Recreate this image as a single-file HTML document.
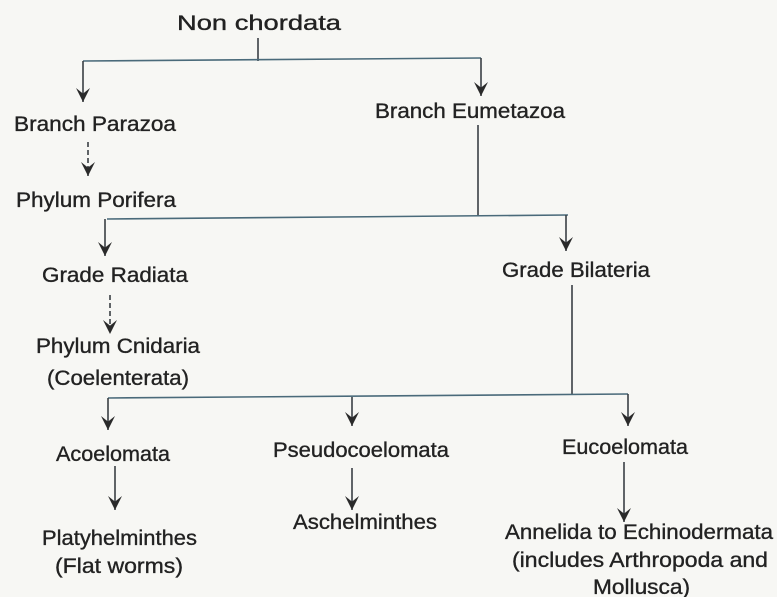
<!DOCTYPE html>
<html><head><style>
html,body{margin:0;padding:0;background:#f7f7f4;}
svg{display:block}
text{font-family:"Liberation Sans",Arial,sans-serif;font-size:21px;fill:#222;stroke:#222;stroke-width:0.35;}
</style></head><body>
<svg width="777" height="597" viewBox="0 0 777 597" xmlns="http://www.w3.org/2000/svg">
<defs>
<marker id="a" viewBox="0 0 10 10" refX="10" refY="5" markerWidth="14" markerHeight="14" markerUnits="userSpaceOnUse" orient="auto">
<path d="M0,0 L10,5 L0,10 L4,5 Z" fill="#2a2a2a"/>
</marker>
</defs>
<g stroke="#3a3f44" stroke-width="1.6" fill="none">
<line x1="258" y1="38" x2="258" y2="61"/>
<line x1="83" y1="61" x2="481" y2="58" stroke="#4a6a7a"/>
<line x1="83" y1="61" x2="83" y2="102" marker-end="url(#a)"/>
<line x1="481" y1="58" x2="481" y2="96" marker-end="url(#a)"/>
<line x1="88" y1="142" x2="88" y2="176" stroke-dasharray="5,3" marker-end="url(#a)"/>
<line x1="478" y1="125" x2="478" y2="216"/>
<line x1="107" y1="219" x2="568" y2="215" stroke="#4a6a7a"/>
<line x1="105" y1="219" x2="105" y2="256" marker-end="url(#a)"/>
<line x1="566" y1="215" x2="566" y2="251" marker-end="url(#a)"/>
<line x1="110" y1="295" x2="110" y2="334" stroke-dasharray="5,3" marker-end="url(#a)"/>
<line x1="572" y1="285" x2="572" y2="395"/>
<line x1="108" y1="398" x2="628" y2="394" stroke="#4a6a7a"/>
<line x1="108" y1="398" x2="108" y2="430" marker-end="url(#a)"/>
<line x1="352" y1="397" x2="352" y2="426" marker-end="url(#a)"/>
<line x1="628" y1="394" x2="628" y2="426" marker-end="url(#a)"/>
<line x1="115" y1="466" x2="115" y2="510" marker-end="url(#a)"/>
<line x1="352" y1="468" x2="352" y2="510" marker-end="url(#a)"/>
<line x1="624" y1="462" x2="624" y2="522" marker-end="url(#a)"/>
</g>
<text x="177" y="30" textLength="164" lengthAdjust="spacingAndGlyphs">Non chordata</text>
<text x="14" y="131" textLength="162" lengthAdjust="spacingAndGlyphs">Branch Parazoa</text>
<text x="375" y="118" textLength="190" lengthAdjust="spacingAndGlyphs">Branch Eumetazoa</text>
<text x="16" y="207" textLength="160" lengthAdjust="spacingAndGlyphs">Phylum Porifera</text>
<text x="42" y="282" textLength="146" lengthAdjust="spacingAndGlyphs">Grade Radiata</text>
<text x="502" y="277" textLength="148" lengthAdjust="spacingAndGlyphs">Grade Bilateria</text>
<text x="36" y="353" textLength="164" lengthAdjust="spacingAndGlyphs">Phylum Cnidaria</text>
<text x="47" y="385" textLength="142" lengthAdjust="spacingAndGlyphs">(Coelenterata)</text>
<text x="56" y="461" textLength="114" lengthAdjust="spacingAndGlyphs">Acoelomata</text>
<text x="273" y="457" textLength="176" lengthAdjust="spacingAndGlyphs">Pseudocoelomata</text>
<text x="562" y="454" textLength="126" lengthAdjust="spacingAndGlyphs">Eucoelomata</text>
<text x="42" y="545" textLength="155" lengthAdjust="spacingAndGlyphs">Platyhelminthes</text>
<text x="55" y="573" textLength="128" lengthAdjust="spacingAndGlyphs">(Flat worms)</text>
<text x="293" y="529" textLength="144" lengthAdjust="spacingAndGlyphs">Aschelminthes</text>
<text x="505" y="539" textLength="268" lengthAdjust="spacingAndGlyphs">Annelida to Echinodermata</text>
<text x="512" y="567" textLength="256" lengthAdjust="spacingAndGlyphs">(includes Arthropoda and</text>
<text x="593" y="594" textLength="97" lengthAdjust="spacingAndGlyphs">Mollusca)</text>
</svg>
</body></html>
